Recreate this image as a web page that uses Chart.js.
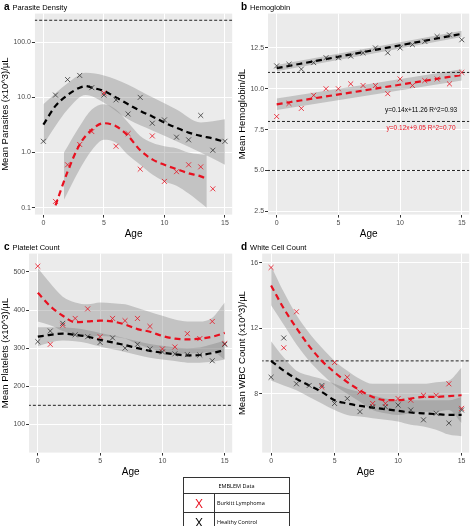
<!DOCTYPE html>
<html><head><meta charset="utf-8">
<script src="https://cdn.jsdelivr.net/npm/chart.js@4/dist/chart.umd.min.js"></script>
<style>
body{margin:0;background:#fff;width:474px;height:526px;position:relative;overflow:hidden;font-family:Arial,"Liberation Sans",sans-serif}
.p{position:absolute}
#leg{position:absolute;left:183px;top:477px;width:107px;border:1px solid #333;border-collapse:collapse;font-family:"Open Sans",sans-serif;font-size:5.5px}
#leg td{border:1px solid #333;height:15px;padding:0 2px}
</style></head><body>
<div class="p" style="left:0;top:0;width:237px;height:240px"><canvas id="ca"></canvas></div>
<div class="p" style="left:237px;top:0;width:237px;height:240px"><canvas id="cb"></canvas></div>
<div class="p" style="left:0;top:240px;width:237px;height:238px"><canvas id="cc"></canvas></div>
<div class="p" style="left:237px;top:240px;width:237px;height:238px"><canvas id="cd"></canvas></div>
<table id="leg">
<tr><td colspan="2" style="text-align:center">EMBLEM Data</td></tr>
<tr><td style="width:26px;text-align:center;color:#e8101f;font-size:13px">X</td><td>Burkitt Lymphoma</td></tr>
<tr><td style="text-align:center;color:#000;font-size:13px">X</td><td>Healthy Control</td></tr>
</table>
<script>
const ages=[0,1,2,3,4,5,6,7,8,9,10,11,12,13,14,15];
// Panel a: parasite density
const aHealthy=[1.6,11,21,25,15,11,9,5,10,3.4,3.9,1.9,1.7,4.7,1.1,1.6];
const aBurkitt=[null,0.13,0.6,1.4,2.4,12,1.3,2.2,0.5,2,0.3,0.45,0.6,0.55,0.22,null];
const aHFitX=[0,1,2,3,3.5,4,5,6,7,8,9,10,11,12,13,14,15];
const aHFit=[3.2,7,11,15,16,15,13,10,7.5,5.7,4.5,3.5,2.8,2.3,2,1.8,1.55];
const aHBandX=[0,2,3.5,5,7,9,11,13,15];
const aHUp=[7.5,18,28,25,17,10,6,3.5,4];
const aHLo=[1.4,6,11,8,4,2.5,1.6,1,0.6];
const aBFitX=[1,2,3,4,5,6,7,8,9,10,11,12,13,13.5];
const aBFit=[0.11,0.45,1.4,2.6,3.4,3,2,1.1,0.75,0.6,0.5,0.42,0.37,0.33];
const aBBandX=[1.7,3,4,5,6,7,8,9,10,11,12,13.5];
const aBUp=[1.0,3,6,7.5,6,3.5,2,1.5,1.3,1.2,1,0.9];
const aBLo=[0.14,0.5,1.1,1.7,1.5,0.9,0.6,0.4,0.3,0.25,0.18,0.1];
// Panel b: hemoglobin
const bHealthy=[11.4,11.5,11.2,11.6,11.9,11.9,12,12.2,12.5,12.2,12.5,12.7,12.9,13.2,13.3,13];
const bBurkitt=[8.3,9.1,8.8,9.6,10,10,10.3,10.2,10.2,9.7,10.6,10.2,10.5,10.6,10.3,11];
const bFitX=[0,15];
const bHFit=[11.26,13.36];
const bHUp=[11.45,13.55];
const bHLo=[11.07,13.17];
const bBFit=[9.05,10.85];
const bBUp=[9.4,11.2];
const bBLo=[8.7,10.5];
// Panel c: platelets
const cBurkitt=[515,310,360,378,403,330,378,372,378,357,298,303,338,325,370,312];
const cHealthy=[317,345,365,335,330,315,327,300,310,298,290,285,283,282,267,310];
const cFitX=ages;
const cBFit=[445,410,385,368,370,372,370,362,350,343,332,325,323,325,330,340];
const cBUp=[510,470,435,420,415,420,418,415,405,395,385,375,370,370,380,420];
const cBLo=[370,360,345,335,330,332,330,325,310,300,290,285,285,287,290,270];
const cHFit=[330,335,338,335,330,322,315,308,300,293,288,284,281,282,287,295];
const cHUp=[355,355,355,352,347,340,333,326,318,311,306,302,300,302,310,320];
const cHLo=[305,315,320,318,313,304,297,290,282,275,270,266,262,262,264,270];
// Panel d: white cells
const dBurkitt=[15.7,10.8,13,null,8.4,9.9,9,8.1,7.4,7.4,7.7,7.6,7.9,7.9,8.6,7.1];
const dHealthy=[9,11.4,8.6,8.5,8.5,7.4,7.7,6.9,7.2,7.2,7.3,7,6.4,6.8,6.2,7];
const dBFit=[14.6,13.2,12,10.9,10,9.3,8.7,8.2,7.8,7.6,7.6,7.7,7.8,7.8,7.85,7.9];
const dBUp=[15.8,14.2,12.8,11.7,10.8,10,9.4,8.9,8.6,8.6,8.6,8.6,8.6,8.7,8.8,9.6];
const dBLo=[13.4,12.2,11,10,9.2,8.5,8,7.5,7,6.8,6.7,6.8,6.9,6.9,7,6.2];
const dHFit=[10,9.4,8.9,8.5,8.1,7.6,7.4,7.25,7.15,7.05,6.95,6.85,6.8,6.75,6.7,6.7];
const dHUp=[11.2,10.2,9.4,9.1,8.9,8.6,8.3,8.1,7.9,7.7,7.6,7.6,7.6,7.6,7.6,7.8];
const dHLo=[8.8,8.5,8.2,7.8,7.4,7.0,6.7,6.6,6.5,6.4,6.3,6.1,6.0,5.8,5.5,5.4];

const RED='#e8101f', BAND='rgba(120,120,120,0.35)';
const xy=(xs,ys)=>xs.map((x,i)=>({x,y:ys[i]})).filter(p=>p.y!=null);
function pts(ys,c){return {type:'scatter',data:xy(ages,ys),showLine:false,pointStyle:'crossRot',pointRadius:3.5,borderColor:c,borderWidth:0.8,backgroundColor:c,order:0};}
function fit(xs,ys,c){return {type:'line',data:xy(xs,ys),borderColor:c,borderWidth:2.2,borderDash:[6,4],pointRadius:0,tension:0.4,cubicInterpolationMode:'monotone',fill:false,order:1};}
function band(xs,lo,up){return [
 {type:'line',data:xy(xs,lo),borderWidth:0,pointRadius:0,tension:0.4,cubicInterpolationMode:'monotone',fill:false,order:3},
 {type:'line',data:xy(xs,up),borderWidth:0,pointRadius:0,tension:0.4,cubicInterpolationMode:'monotone',fill:'-1',backgroundColor:BAND,order:3}];}
function ref(v){return {type:'line',data:[{x:-2,y:v},{x:17,y:v}],borderColor:'#222',borderWidth:1,borderDash:[3,2],pointRadius:0,fill:false,order:2};}
const bg={id:'bg',beforeDraw(ch){const a=ch.chartArea,c=ch.ctx;c.save();c.fillStyle='#ebebeb';c.fillRect(a.left,a.top,a.right-a.left,a.bottom-a.top);c.restore();}};
const ttl={id:'ttl',afterDraw(ch){const o=ch.options.plugins.ttl,c=ch.ctx;c.save();c.textBaseline='alphabetic';c.fillStyle='#000';
 c.font='bold 10px Arial';c.fillText(o.l,4,10);const w=c.measureText(o.l).width;c.font='7.5px Arial';c.fillText(o.t,4+w+3,10);c.restore();}};
function make(id,letter,title,ytitle,datasets,yopt,extra){
 return new Chart(document.getElementById(id),{data:{datasets},plugins:[bg,ttl].concat(extra||[]),
 options:{responsive:true,maintainAspectRatio:false,animation:false,
  layout:{padding:{top:0,right:2,left:0,bottom:0}},
  plugins:{legend:{display:false},tooltip:{enabled:false},ttl:{l:letter,t:title},
   title:{display:true,text:' ',color:'rgba(0,0,0,0)',font:{size:8},padding:{top:2,bottom:2}}},
  scales:{
   x:{type:'linear',min:-0.7,max:15.6,
      ticks:{stepSize:5,color:'#4d4d4d',font:{size:7},padding:1,callback:v=>[0,5,10,15].includes(v)?String(v):''},
      afterBuildTicks(ax){ax.ticks=[0,5,10,15].map(v=>({value:v}));},
      grid:{color:'#fff',lineWidth:1,tickColor:'#333',tickLength:3},border:{display:false},
      title:{display:true,text:'Age',color:'#000',font:{size:10},padding:{top:0,bottom:0}}},
   y:Object.assign({grid:{color:'#fff',lineWidth:1,tickColor:'#333',tickLength:3},border:{display:false},
      title:{display:true,text:ytitle,color:'#000',font:{size:9.5},padding:{top:0,bottom:1}}},yopt)
  }}});
}
const tk=(vals,fmt)=>({afterBuildTicks(ax){ax.ticks=vals.map(v=>({value:v}));},ticks:{color:'#4d4d4d',font:{size:7},padding:1,callback:fmt}});

make('ca','a','Parasite Density','Mean Parasites (x10^3)/µL',
 [...band(aHBandX,aHLo,aHUp),...band(aBBandX,aBLo,aBUp),fit(aHFitX,aHFit,'#000'),fit(aBFitX,aBFit,RED),pts(aHealthy,'#333'),pts(aBurkitt,RED),ref(250)],
 Object.assign({type:'logarithmic',min:0.075,max:330},tk([0.1,1,10,100],v=>v.toFixed(1))));

const hbText={id:'hbt',afterDatasetsDraw(ch){const c=ch.ctx,x=ch.scales.x,y=ch.scales.y;c.save();c.font='6.5px Arial';c.textAlign='center';
 c.fillStyle='#000';c.fillText('y=0.14x+11.26 R^2=0.93',x.getPixelForValue(11.7),y.getPixelForValue(8.55));
 c.fillStyle=RED;c.fillText('y=0.12x+9.05 R^2=0.70',x.getPixelForValue(11.7),y.getPixelForValue(7.45));c.restore();}};
make('cb','b','Hemoglobin','Mean Hemoglobin/dL',
 [...band(bFitX,bHLo,bHUp),...band(bFitX,bBLo,bBUp),fit(bFitX,bHFit,'#000'),fit(bFitX,bBFit,RED),pts(bHealthy,'#333'),pts(bBurkitt,RED),ref(11),ref(8),ref(5)],
 Object.assign({min:2.3,max:14.6},tk([2.5,5,7.5,10,12.5],v=>v.toFixed(1))),[hbText]);

make('cc','c','Platelet Count','Mean Platelets (x10^3)/µL',
 [...band(cFitX,cBLo,cBUp),...band(cFitX,cHLo,cHUp),fit(cFitX,cHFit,'#000'),fit(cFitX,cBFit,RED),pts(cHealthy,'#333'),pts(cBurkitt,RED),ref(150)],
 Object.assign({min:26,max:548},tk([100,200,300,400,500],v=>String(v))));

make('cd','d','White Cell Count','Mean WBC Count (x10^3)/µL',
 [...band(ages,dBLo,dBUp),...band(ages,dHLo,dHUp),fit(ages,dHFit,'#000'),fit(ages,dBFit,RED),pts(dHealthy,'#333'),pts(dBurkitt,RED),ref(10)],
 Object.assign({min:4.4,max:16.55},tk([8,12,16],v=>String(v))));
</script></body></html>
